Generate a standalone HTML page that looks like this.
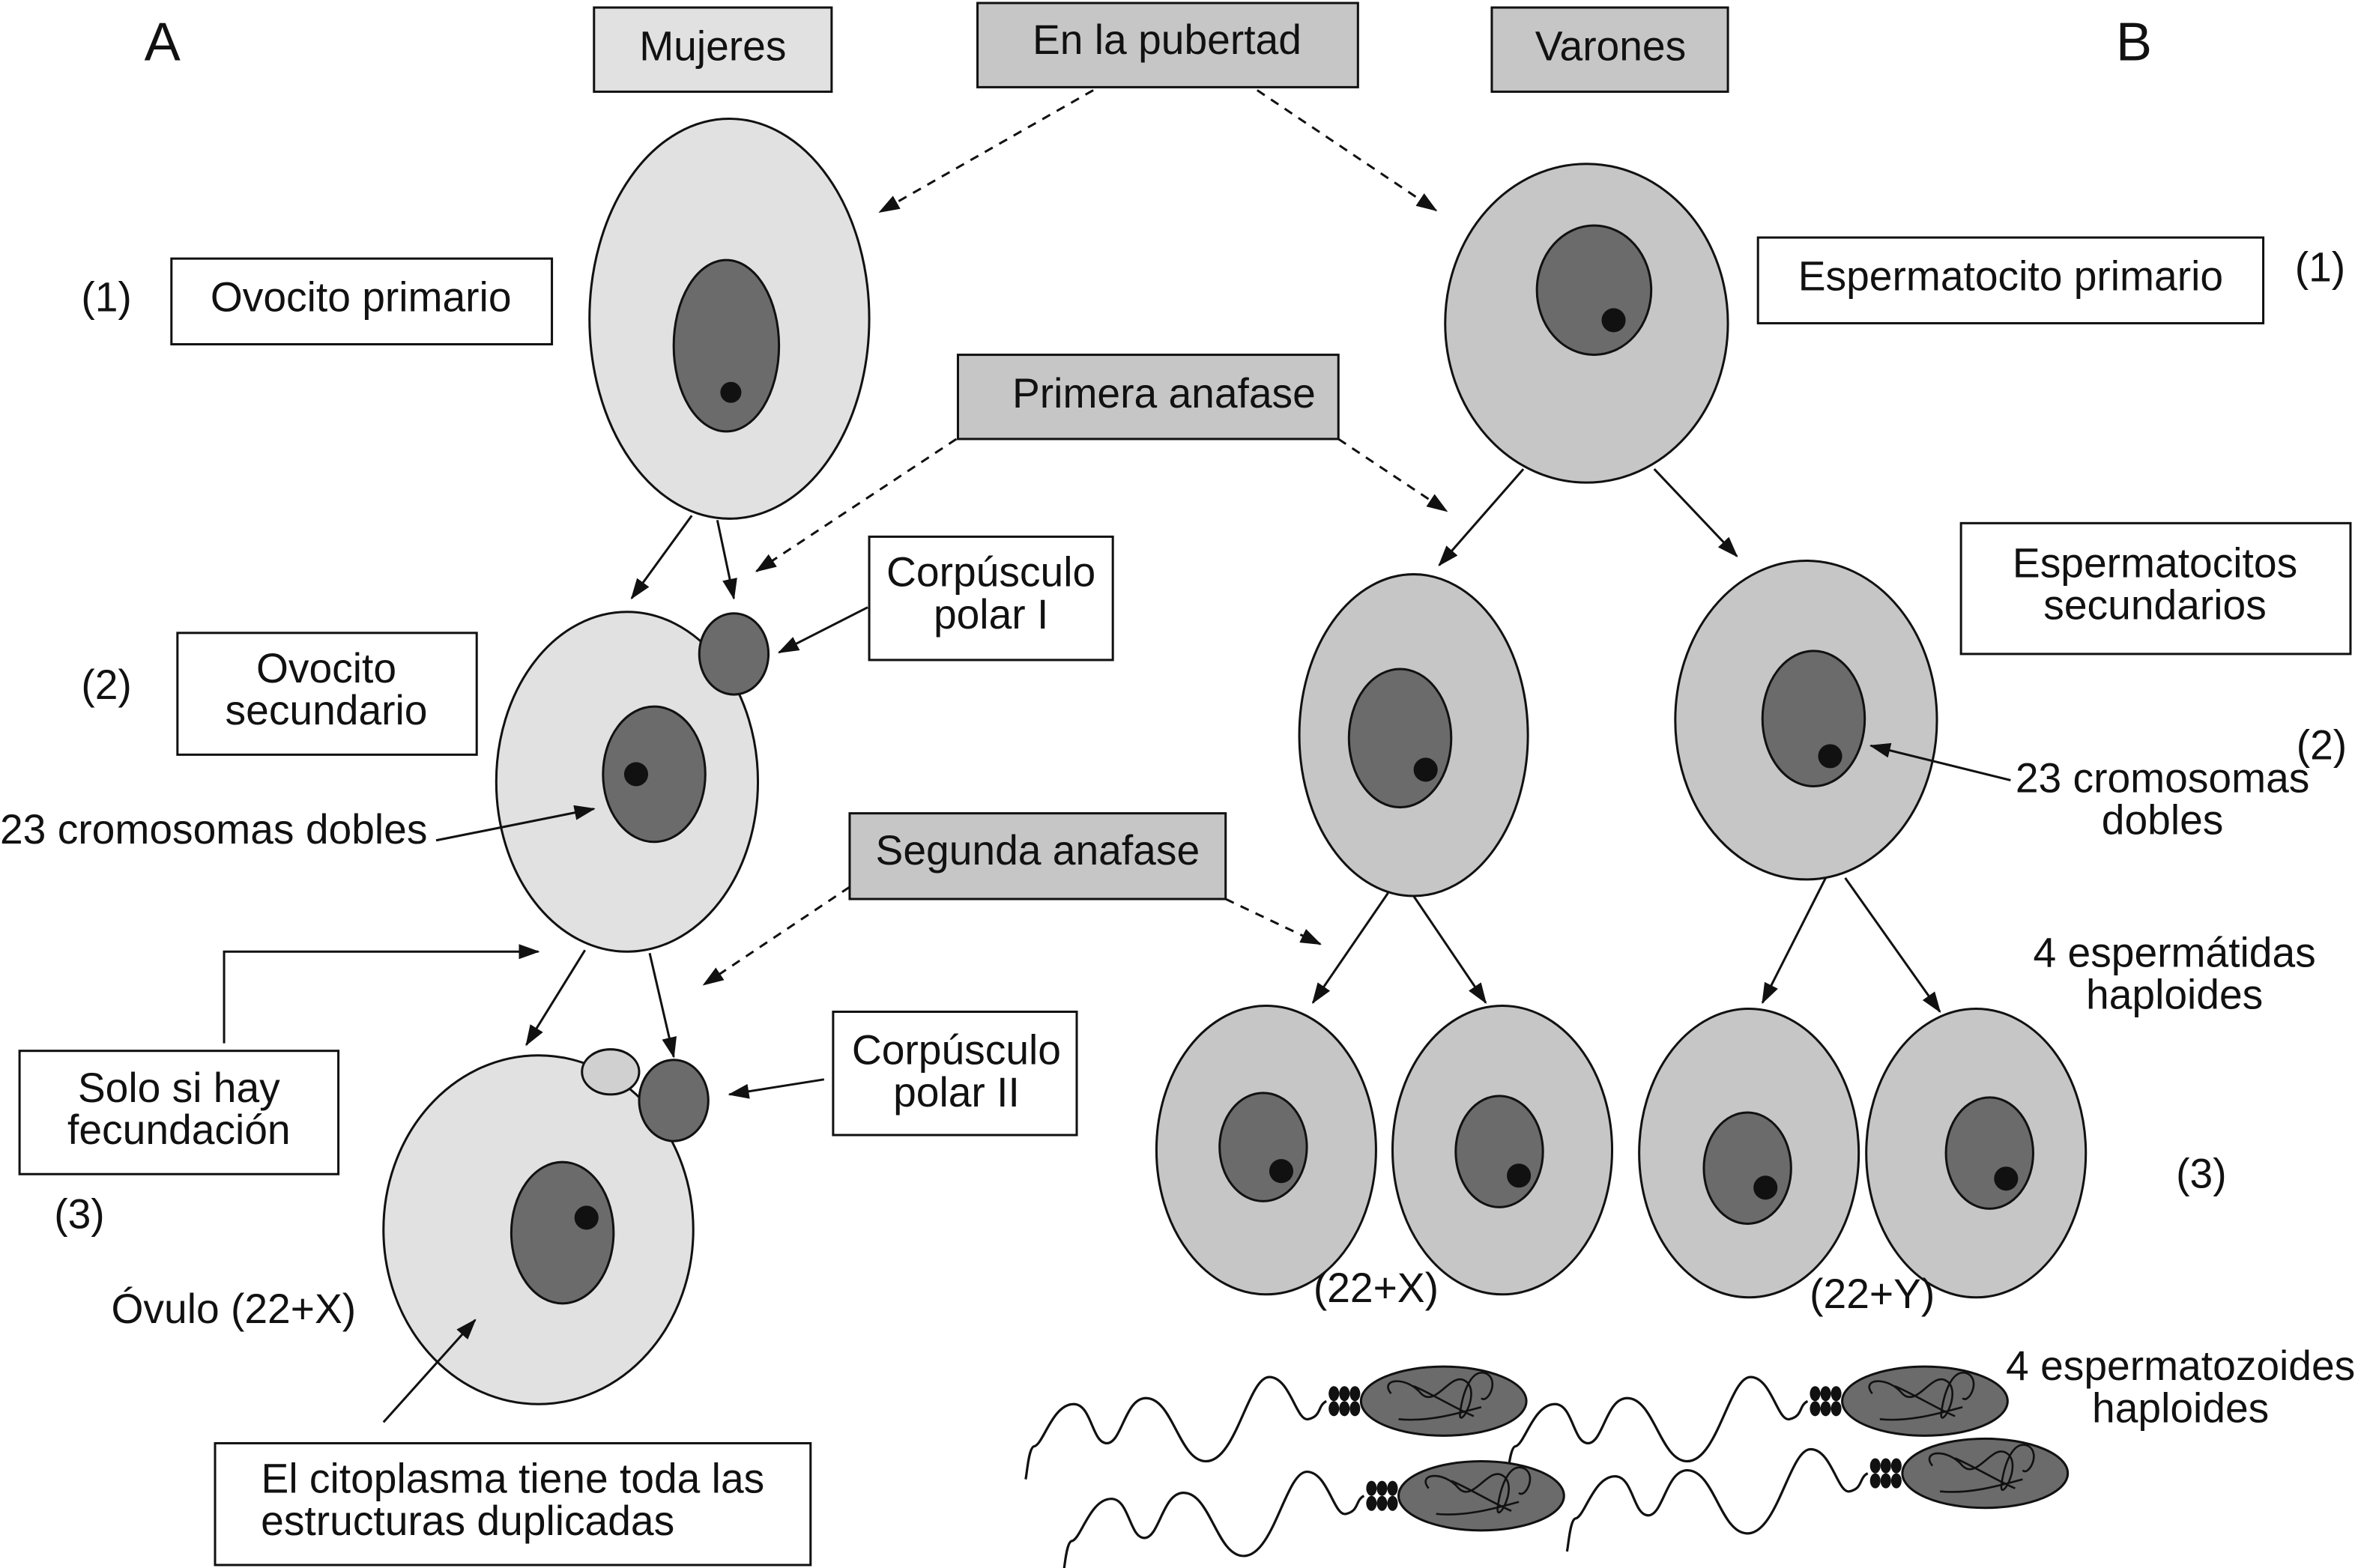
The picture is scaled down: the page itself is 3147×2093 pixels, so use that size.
<!DOCTYPE html>
<html><head><meta charset="utf-8"><style>
html,body{margin:0;padding:0;background:#fff}
svg{display:block}
text{font-family:"Liberation Sans Narrow","Liberation Sans",sans-serif;font-size:27.5px;fill:#111}
.c{text-anchor:middle}
</style></head><body>
<svg width="3147" height="2093" viewBox="0 0 1568 1043" preserveAspectRatio="none" xmlns="http://www.w3.org/2000/svg">
<defs>
<marker id="b" markerWidth="14" markerHeight="10" refX="13" refY="5" orient="auto" markerUnits="userSpaceOnUse"><path d="M0,0 L14,5 L0,10 z" fill="#111"/></marker>
<g id="sp">
<path d="M-83,0 c-6,3 -3,10 -12,12 c-8,2 -12,-28 -26,-28 c-14,0 -22,56 -42,56 c-18,0 -22,-42 -40,-42 c-14,0 -16,30 -26,30 c-10,0 -10,-26 -22,-26 c-14,0 -20,26 -26,28 c-4,0 -5,18 -6,22" fill="none" stroke="#111" stroke-width="1.6"/>
<g fill="#111"><ellipse cx="-78" cy="-5" rx="3.5" ry="5"/><ellipse cx="-78" cy="5" rx="3.5" ry="5"/><ellipse cx="-71" cy="-5" rx="3.5" ry="5"/><ellipse cx="-71" cy="5" rx="3.5" ry="5"/><ellipse cx="-64" cy="-5" rx="3.5" ry="5"/><ellipse cx="-64" cy="5" rx="3.5" ry="5"/></g>
<ellipse cx="-5" cy="0" rx="55" ry="23" fill="#6b6b6b" stroke="#111" stroke-width="1.5"/>
<path d="M-40,-5 c-8,-10 10,-12 20,0 c10,10 20,-16 30,-8 c10,8 -6,34 -4,20 c2,-14 8,-30 18,-25 c8,5 0,20 -4,16 M-35,12 c20,2 40,-4 55,-8 M-25,-10 c10,4 30,16 40,20" fill="none" stroke="#111" stroke-width="1.3"/>
</g>
</defs>
<text x="96" y="40" style="font-size:36px">A</text>
<text x="1407" y="40" style="font-size:36px">B</text>
<rect x="395" y="5" width="158" height="56" fill="#e1e1e1" stroke="#111" stroke-width="1.5"/>
<text x="474" y="40" class="c">Mujeres</text>
<rect x="650" y="2" width="253" height="56" fill="#c6c6c6" stroke="#111" stroke-width="1.5"/>
<text x="776" y="36" class="c">En la pubertad</text>
<rect x="992" y="5" width="157" height="56" fill="#c6c6c6" stroke="#111" stroke-width="1.5"/>
<text x="1071" y="40" class="c">Varones</text>
<g stroke="#111" stroke-width="1.5" fill="none" stroke-dasharray="6,5">
<line x1="727" y1="60" x2="585" y2="141" marker-end="url(#b)"/>
<line x1="836" y1="60" x2="955" y2="140" marker-end="url(#b)"/>
<line x1="636" y1="292" x2="503" y2="380" marker-end="url(#b)"/>
<line x1="890" y1="292" x2="962" y2="340" marker-end="url(#b)"/>
<line x1="565" y1="590" x2="468" y2="655" marker-end="url(#b)"/>
<line x1="815" y1="598" x2="878" y2="628" marker-end="url(#b)"/>
</g>
<ellipse cx="485" cy="212" rx="93" ry="133" fill="#e1e1e1" stroke="#111" stroke-width="1.5"/>
<ellipse cx="483" cy="230" rx="35" ry="57" fill="#6b6b6b" stroke="#111" stroke-width="1.5"/>
<circle cx="486" cy="261" r="7" fill="#111"/>
<rect x="114" y="172" width="253" height="57" fill="#fff" stroke="#111" stroke-width="1.5"/>
<text x="240" y="207" class="c">Ovocito primario</text>
<text x="54" y="207">(1)</text>
<rect x="637" y="236" width="253" height="56" fill="#c6c6c6" stroke="#111" stroke-width="1.5"/>
<text x="774" y="271" class="c">Primera anafase</text>
<ellipse cx="417" cy="520" rx="87" ry="113" fill="#e1e1e1" stroke="#111" stroke-width="1.5"/>
<ellipse cx="435" cy="515" rx="34" ry="45" fill="#6b6b6b" stroke="#111" stroke-width="1.5"/>
<circle cx="423" cy="515" r="8" fill="#111"/>
<ellipse cx="488" cy="435" rx="23" ry="27" fill="#6b6b6b" stroke="#111" stroke-width="1.5"/>
<rect x="578" y="357" width="162" height="82" fill="#fff" stroke="#111" stroke-width="1.5"/>
<text x="659" y="390" class="c">Corpúsculo</text><text x="659" y="418" class="c">polar I</text>
<rect x="118" y="421" width="199" height="81" fill="#fff" stroke="#111" stroke-width="1.5"/>
<text x="217" y="454" class="c">Ovocito</text><text x="217" y="482" class="c">secundario</text>
<text x="54" y="465">(2)</text>
<text x="0" y="561">23 cromosomas dobles</text>
<rect x="565" y="541" width="250" height="57" fill="#c6c6c6" stroke="#111" stroke-width="1.5"/>
<text x="690" y="575" class="c">Segunda anafase</text>
<ellipse cx="358" cy="818" rx="103" ry="116" fill="#e1e1e1" stroke="#111" stroke-width="1.5"/>
<ellipse cx="374" cy="820" rx="34" ry="47" fill="#6b6b6b" stroke="#111" stroke-width="1.5"/>
<circle cx="390" cy="810" r="8" fill="#111"/>
<ellipse cx="406" cy="713" rx="19" ry="15" fill="#d0d0d0" stroke="#111" stroke-width="1.5"/>
<ellipse cx="448" cy="732" rx="23" ry="27" fill="#6b6b6b" stroke="#111" stroke-width="1.5"/>
<rect x="554" y="673" width="162" height="82" fill="#fff" stroke="#111" stroke-width="1.5"/>
<text x="636" y="708" class="c">Corpúsculo</text><text x="636" y="736" class="c">polar II</text>
<rect x="13" y="699" width="212" height="82" fill="#fff" stroke="#111" stroke-width="1.5"/>
<text x="119" y="733" class="c">Solo si hay</text><text x="119" y="761" class="c">fecundación</text>
<text x="36" y="817">(3)</text>
<text x="74" y="880">Óvulo (22+X)</text>
<rect x="143" y="960" width="396" height="81" fill="#fff" stroke="#111" stroke-width="1.5"/>
<text x="341" y="993" class="c">El citoplasma tiene toda las</text><text x="311" y="1021" class="c">estructuras duplicadas</text>
<g stroke="#111" stroke-width="1.5" fill="none">
<line x1="460" y1="343" x2="420" y2="398" marker-end="url(#b)"/>
<line x1="477" y1="346" x2="488" y2="398" marker-end="url(#b)"/>
<line x1="577" y1="404" x2="518" y2="434" marker-end="url(#b)"/>
<line x1="290" y1="559" x2="395" y2="538" marker-end="url(#b)"/>
<polyline points="149,694 149,633 358,633" marker-end="url(#b)"/>
<line x1="389" y1="632" x2="350" y2="695" marker-end="url(#b)"/>
<line x1="432" y1="634" x2="448" y2="703" marker-end="url(#b)"/>
<line x1="548" y1="718" x2="485" y2="728" marker-end="url(#b)"/>
<line x1="255" y1="946" x2="316" y2="878" marker-end="url(#b)"/>
</g>
<ellipse cx="1055" cy="215" rx="94" ry="106" fill="#c6c6c6" stroke="#111" stroke-width="1.5"/>
<ellipse cx="1060" cy="193" rx="38" ry="43" fill="#6b6b6b" stroke="#111" stroke-width="1.5"/>
<circle cx="1073" cy="213" r="8" fill="#111"/>
<rect x="1169" y="158" width="336" height="57" fill="#fff" stroke="#111" stroke-width="1.5"/>
<text x="1337" y="193" class="c">Espermatocito primario</text>
<text x="1526" y="187">(1)</text>
<rect x="1304" y="348" width="259" height="87" fill="#fff" stroke="#111" stroke-width="1.5"/>
<text x="1433" y="384" class="c">Espermatocitos</text><text x="1433" y="412" class="c">secundarios</text>
<ellipse cx="940" cy="489" rx="76" ry="107" fill="#c6c6c6" stroke="#111" stroke-width="1.5"/>
<ellipse cx="931" cy="491" rx="34" ry="46" fill="#6b6b6b" stroke="#111" stroke-width="1.5"/>
<circle cx="948" cy="512" r="8" fill="#111"/>
<ellipse cx="1201" cy="479" rx="87" ry="106" fill="#c6c6c6" stroke="#111" stroke-width="1.5"/>
<ellipse cx="1206" cy="478" rx="34" ry="45" fill="#6b6b6b" stroke="#111" stroke-width="1.5"/>
<circle cx="1217" cy="503" r="8" fill="#111"/>
<text x="1527" y="505">(2)</text>
<text x="1438" y="527" class="c">23 cromosomas</text><text x="1438" y="555" class="c">dobles</text>
<text x="1446" y="643" class="c">4 espermátidas</text><text x="1446" y="671" class="c">haploides</text>
<text x="1447" y="790">(3)</text>
<ellipse cx="842" cy="765" rx="73" ry="96" fill="#c6c6c6" stroke="#111" stroke-width="1.5"/>
<ellipse cx="840" cy="763" rx="29" ry="36" fill="#6b6b6b" stroke="#111" stroke-width="1.5"/>
<circle cx="852" cy="779" r="8" fill="#111"/>
<ellipse cx="999" cy="765" rx="73" ry="96" fill="#c6c6c6" stroke="#111" stroke-width="1.5"/>
<ellipse cx="997" cy="766" rx="29" ry="37" fill="#6b6b6b" stroke="#111" stroke-width="1.5"/>
<circle cx="1010" cy="782" r="8" fill="#111"/>
<ellipse cx="1163" cy="767" rx="73" ry="96" fill="#c6c6c6" stroke="#111" stroke-width="1.5"/>
<ellipse cx="1162" cy="777" rx="29" ry="37" fill="#6b6b6b" stroke="#111" stroke-width="1.5"/>
<circle cx="1174" cy="790" r="8" fill="#111"/>
<ellipse cx="1314" cy="767" rx="73" ry="96" fill="#c6c6c6" stroke="#111" stroke-width="1.5"/>
<ellipse cx="1323" cy="767" rx="29" ry="37" fill="#6b6b6b" stroke="#111" stroke-width="1.5"/>
<circle cx="1334" cy="784" r="8" fill="#111"/>
<text x="915" y="866" class="c">(22+X)</text>
<text x="1245" y="870" class="c">(22+Y)</text>
<text x="1450" y="918" class="c">4 espermatozoides</text><text x="1450" y="946" class="c">haploides</text>
<g stroke="#111" stroke-width="1.5" fill="none">
<line x1="1013" y1="312" x2="957" y2="376" marker-end="url(#b)"/>
<line x1="1100" y1="312" x2="1155" y2="370" marker-end="url(#b)"/>
<line x1="1337" y1="519" x2="1244" y2="496" marker-end="url(#b)"/>
<line x1="923" y1="594" x2="873" y2="667" marker-end="url(#b)"/>
<line x1="940" y1="596" x2="988" y2="667" marker-end="url(#b)"/>
<line x1="1214" y1="584" x2="1172" y2="667" marker-end="url(#b)"/>
<line x1="1227" y1="584" x2="1290" y2="673" marker-end="url(#b)"/>
</g>
<use href="#sp" transform="translate(965,932)"/>
<use href="#sp" transform="translate(1285,932)"/>
<use href="#sp" transform="translate(990,995)"/>
<use href="#sp" transform="translate(1325,980)"/>
</svg>
</body></html>
